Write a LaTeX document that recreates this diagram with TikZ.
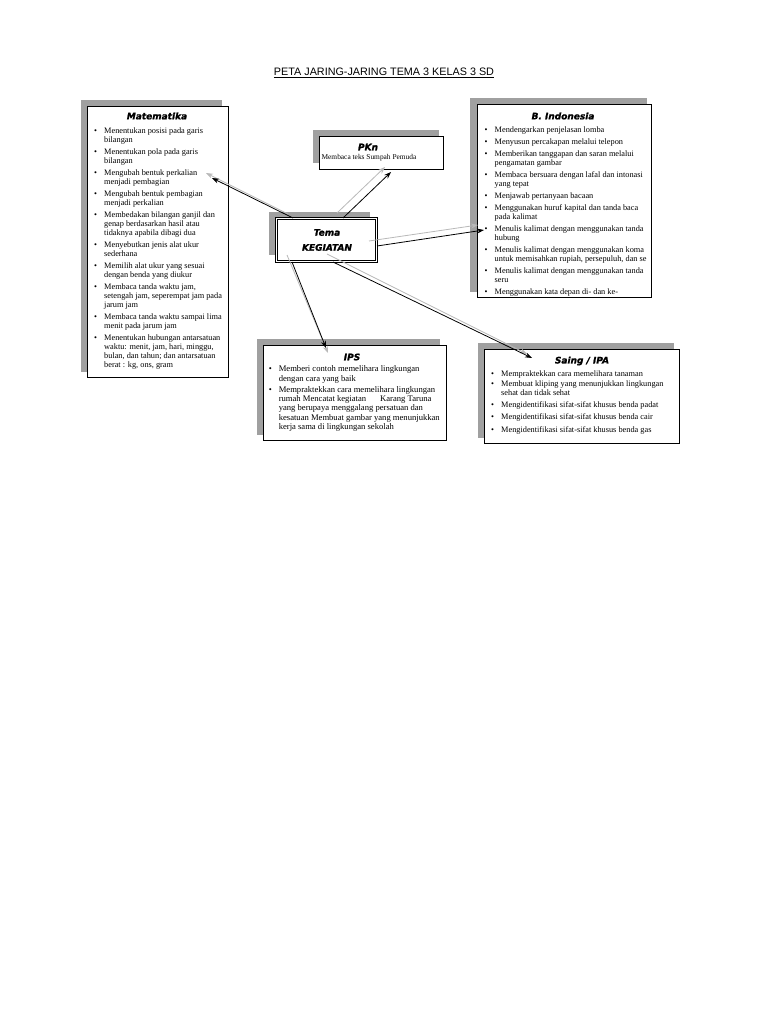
\documentclass[tikz,border=0pt]{standalone}
\usepackage{fontspec}
\setmainfont{Liberation Serif}
\newfontfamily\titlefont{Liberation Sans}
\newfontfamily\headfont[BoldItalicFeatures={FakeBold=1.2}]{DejaVu Sans}
\usetikzlibrary{arrows.meta}
\definecolor{shadowgray}{RGB}{160,160,160}
\definecolor{linegray}{RGB}{185,185,185}
\newcommand\bul{\makebox[10pt][l]{\textbullet}}
\tikzset{
  shadowbox/.style={fill=shadowgray, draw=none, anchor=north west, inner sep=0pt},
  cardbox/.style={draw=black, line width=0.9pt, fill=white, anchor=north west, inner sep=0pt},
  headtext/.style={font=\headfont\bfseries\itshape\fontsize{9}{10}\selectfont, inner sep=0pt},
  listtext/.style={font=\fontsize{8.3}{9}\selectfont, anchor=north west, inner sep=0pt, align=left},
  blackarrow/.style={draw=black, line width=0.8pt, -{Stealth[length=7pt,width=5pt]}},
  grayarrow/.style={draw=linegray, line width=0.8pt, -{Stealth[length=7pt,width=5pt]}}
}
\begin{document}
\begin{tikzpicture}[x=1pt,y=-1pt]
\fill[white] (0,0) rectangle (768,1024);
\useasboundingbox (0,0) rectangle (768,1024);

% title
\node[font=\titlefont\fontsize{10.8}{12}\selectfont, inner sep=0pt] (title) at (384,73) {\underline{PETA JARING-JARING TEMA 3 KELAS 3 SD}};

% ---------- Matematika ----------
\node[shadowbox, minimum width=141pt, minimum height=272pt] (matsh) at (81,100) {};
\node[cardbox, minimum width=141pt, minimum height=271pt] (mat) at (87,106) {};
\node[headtext] (matH) at (157,116) {Matematika};
\node[listtext] (matL) at (94,127.2) {%
\begin{tabular}{@{}l@{}l@{}}
\bul & Menentukan posisi pada garis\\
 & bilangan\\[3pt]
\bul & Menentukan pola pada garis\\
 & bilangan\\[3pt]
\bul & Mengubah bentuk perkalian\\
 & menjadi pembagian\\[3pt]
\bul & Mengubah bentuk pembagian\\
 & menjadi perkalian\\[3pt]
\bul & Membedakan bilangan ganjil dan\\
 & genap berdasarkan hasil atau\\
 & tidaknya apabila dibagi dua\\[3pt]
\bul & Menyebutkan jenis alat ukur\\
 & sederhana\\[3pt]
\bul & Memilih alat ukur yang sesuai\\
 & dengan benda yang diukur\\[3pt]
\bul & Membaca tanda waktu jam,\\
 & setengah jam, seperempat jam pada\\
 & jarum jam\\[3pt]
\bul & Membaca tanda waktu sampai lima\\
 & menit pada jarum jam\\[3pt]
\bul & Menentukan hubungan antarsatuan\\
 & waktu: menit, jam, hari, minggu,\\
 & bulan, dan tahun; dan antarsatuan\\
 & berat : kg, ons, gram
\end{tabular}};

% ---------- PKn ----------
\node[shadowbox, minimum width=126pt, minimum height=33pt] (pknsh) at (313,130) {};
\node[cardbox, minimum width=124pt, minimum height=33pt] (pkn) at (319,136) {};
\node[headtext] (pknH) at (368,147) {PKn};
\node[font=\fontsize{7.4}{9}\selectfont, inner sep=0pt] (pknT) at (369,158) {Membaca teks Sumpah Pemuda};

% ---------- B. Indonesia ----------
\node[shadowbox, minimum width=177pt, minimum height=194pt] (bish) at (470,98) {};
\node[cardbox, minimum width=174pt, minimum height=193pt] (bi) at (477,104) {};
\node[headtext] (biH) at (563,116) {B. Indonesia};
\node[listtext] (biL) at (484.5,126.2) {%
\begin{tabular}{@{}l@{}l@{}}
\bul & Mendengarkan penjelasan lomba\\[3pt]
\bul & Menyusun percakapan melalui telepon\\[3pt]
\bul & Memberikan tanggapan dan saran melalui\\
 & pengamatan gambar\\[3pt]
\bul & Membaca bersuara dengan lafal dan intonasi\\
 & yang tepat\\[3pt]
\bul & Menjawab pertanyaan bacaan\\[3pt]
\bul & Menggunakan huruf kapital dan tanda baca\\
 & pada kalimat\\[3pt]
\bul & Menulis kalimat dengan menggunakan tanda\\
 & hubung\\[3pt]
\bul & Menulis kalimat dengan menggunakan koma\\
 & untuk memisahkan rupiah, persepuluh, dan se\\[3pt]
\bul & Menulis kalimat dengan menggunakan tanda\\
 & seru\\[3pt]
\bul & Menggunakan kata depan di- dan ke-
\end{tabular}};

% ---------- Tema ----------
\node[shadowbox, minimum width=101pt, minimum height=43pt] (temash) at (269,212) {};
\node[draw=black, fill=white, double, double distance=1.6pt, line width=0.8pt, anchor=north west, inner sep=0pt, minimum width=100pt, minimum height=43pt] (tema) at (276,218) {};
\node[headtext, align=center, font=\headfont\bfseries\itshape\fontsize{9}{15}\selectfont] (temaT) at (327,240) {Tema\\KEGIATAN};

% ---------- IPS ----------
\node[shadowbox, minimum width=183pt, minimum height=96pt] (ipssh) at (257,339) {};
\node[cardbox, minimum width=183pt, minimum height=95pt] (ips) at (263,345) {};
\node[headtext] (ipsH) at (352,357) {IPS};
\node[listtext, font=\fontsize{8.6}{9.3}\selectfont] (ipsL) at (268.6,365) {%
\begin{tabular}{@{}l@{}l@{}}
\bul & Memberi contoh memelihara lingkungan\\
 & dengan cara yang baik\\[2pt]
\bul & Mempraktekkan cara memelihara lingkungan\\
 & rumah Mencatat kegiatan\hspace{14pt}Karang Taruna\\
 & yang berupaya menggalang persatuan dan\\
 & kesatuan Membuat gambar yang menunjukkan\\
 & kerja sama di lingkungan sekolah
\end{tabular}};

% ---------- Sains / IPA ----------
\node[shadowbox, minimum width=196pt, minimum height=95pt] (ipash) at (478,343) {};
\node[cardbox, minimum width=195pt, minimum height=94pt] (ipa) at (484,349) {};
\node[headtext] (ipaH) at (582,361) {Saing / IPA};
\node[listtext] (ipaL) at (491,370.2) {%
\begin{tabular}{@{}l@{}l@{}}
\bul & Mempraktekkan cara memelihara tanaman\\[1pt]
\bul & Membuat kliping yang menunjukkan lingkungan\\
 & sehat dan tidak sehat\\[3pt]
\bul & Mengidentifikasi sifat-sifat khusus benda padat\\[3pt]
\bul & Mengidentifikasi sifat-sifat khusus benda cair\\[4pt]
\bul & Mengidentifikasi sifat-sifat khusus benda gas
\end{tabular}};

% ---------- connector end points ----------
\coordinate (tmA) at (288,214);  \coordinate (matA) at (206,173);
\coordinate (tmB) at (293,218);  \coordinate (matB) at (212,178);
\coordinate (tpA) at (337,213);  \coordinate (pknA) at (385,167);
\coordinate (tpB) at (343,218);  \coordinate (pknB) at (391,172);
\coordinate (tbA) at (369,241);  \coordinate (biA) at (478,225);
\coordinate (tbB) at (377,246);  \coordinate (biB) at (484,230);
\coordinate (tiA) at (287,255);  \coordinate (ipsA) at (328,353);
\coordinate (tiB) at (292,262);  \coordinate (ipsB) at (326,348);
\coordinate (tsA) at (327,254);  \coordinate (ipaA) at (527,354);
\coordinate (tsB) at (333,262);  \coordinate (ipaB) at (532,358);

% ---------- connectors ----------
\draw[grayarrow] (tmA) -- (matA);
\draw[blackarrow] (tmB) -- (matB);
\draw[grayarrow] (tpA) -- (pknA);
\draw[blackarrow] (tpB) -- (pknB);
\draw[grayarrow] (tbA) -- (biA);
\draw[blackarrow] (tbB) -- (biB);
\draw[grayarrow] (tiA) -- (ipsA);
\draw[blackarrow] (tiB) -- (ipsB);
\draw[grayarrow] (tsA) -- (ipaA);
\draw[blackarrow] (tsB) -- (ipaB);
\end{tikzpicture}
\end{document}
